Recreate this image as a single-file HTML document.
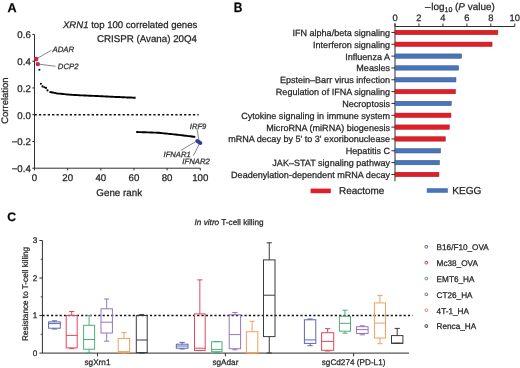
<!DOCTYPE html>
<html><head><meta charset="utf-8"><style>
html,body{margin:0;padding:0;background:#fff;}
svg{display:block;}
text{stroke:#262626;stroke-width:0.25px;text-rendering:geometricPrecision;}
</style></head><body>
<svg width="520" height="368" viewBox="0 0 520 368" font-family="Liberation Sans, Arial, sans-serif">
<rect width="520" height="368" fill="#fff"/>
<text x="7.6" y="12" font-size="12.6" font-weight="bold" fill="#000">A</text>
<text x="197.3" y="27.6" font-size="9.6" text-anchor="end" fill="#262626"><tspan font-style="italic">XRN1</tspan> top 100 correlated genes</text>
<text x="197" y="41.6" font-size="9.75" text-anchor="end" fill="#262626">CRISPR (Avana) 20Q4</text>
<line x1="34.5" y1="34.450000000000045" x2="34.5" y2="168.2" stroke="#2e2e2e" stroke-width="1.0"/>
<line x1="34.5" y1="168.2" x2="200.3" y2="168.2" stroke="#2e2e2e" stroke-width="1.0"/>
<line x1="32.3" y1="34.45" x2="34.5" y2="34.45" stroke="#2e2e2e" stroke-width="1.0"/>
<text x="30.8" y="38.45" font-size="9.7" text-anchor="end" fill="#262626">0.6</text>
<line x1="32.3" y1="61.20" x2="34.5" y2="61.20" stroke="#2e2e2e" stroke-width="1.0"/>
<text x="30.8" y="65.20" font-size="9.7" text-anchor="end" fill="#262626">0.4</text>
<line x1="32.3" y1="87.95" x2="34.5" y2="87.95" stroke="#2e2e2e" stroke-width="1.0"/>
<text x="30.8" y="91.95" font-size="9.7" text-anchor="end" fill="#262626">0.2</text>
<line x1="32.3" y1="114.70" x2="34.5" y2="114.70" stroke="#2e2e2e" stroke-width="1.0"/>
<text x="30.8" y="118.70" font-size="9.7" text-anchor="end" fill="#262626">0.0</text>
<line x1="32.3" y1="141.45" x2="34.5" y2="141.45" stroke="#2e2e2e" stroke-width="1.0"/>
<text x="30.8" y="145.45" font-size="9.7" text-anchor="end" fill="#262626">−0.2</text>
<line x1="32.3" y1="168.20" x2="34.5" y2="168.20" stroke="#2e2e2e" stroke-width="1.0"/>
<text x="30.8" y="172.20" font-size="9.7" text-anchor="end" fill="#262626">−0.4</text>
<line x1="34.50" y1="168.2" x2="34.50" y2="170.4" stroke="#2e2e2e" stroke-width="1.0"/>
<text x="34.50" y="181.0" font-size="9.7" text-anchor="middle" fill="#262626">0</text>
<line x1="67.66" y1="168.2" x2="67.66" y2="170.4" stroke="#2e2e2e" stroke-width="1.0"/>
<text x="67.66" y="181.0" font-size="9.7" text-anchor="middle" fill="#262626">20</text>
<line x1="100.82" y1="168.2" x2="100.82" y2="170.4" stroke="#2e2e2e" stroke-width="1.0"/>
<text x="100.82" y="181.0" font-size="9.7" text-anchor="middle" fill="#262626">40</text>
<line x1="133.98" y1="168.2" x2="133.98" y2="170.4" stroke="#2e2e2e" stroke-width="1.0"/>
<text x="133.98" y="181.0" font-size="9.7" text-anchor="middle" fill="#262626">60</text>
<line x1="167.14" y1="168.2" x2="167.14" y2="170.4" stroke="#2e2e2e" stroke-width="1.0"/>
<text x="167.14" y="181.0" font-size="9.7" text-anchor="middle" fill="#262626">80</text>
<line x1="200.30" y1="168.2" x2="200.30" y2="170.4" stroke="#2e2e2e" stroke-width="1.0"/>
<text x="200.30" y="181.0" font-size="9.7" text-anchor="middle" fill="#262626">100</text>
<text x="119.2" y="196.0" font-size="9.8" text-anchor="middle" fill="#262626">Gene rank</text>
<text transform="translate(8.1,100.6) rotate(-90)" font-size="9.5" text-anchor="middle" fill="#262626">Correlation</text>
<line x1="34.5" y1="114.7" x2="198.6" y2="114.7" stroke="#111" stroke-width="1.6" stroke-dasharray="2.3 2.1"/>
<path d="M49.42,91.90 L51.08,92.20 L52.74,92.53 L54.40,92.86 L56.05,93.19 L57.71,93.46 L59.37,93.64 L61.03,93.81 L62.69,93.98 L64.34,94.16 L66.00,94.33 L67.66,94.50 L69.32,94.64 L70.98,94.74 L72.63,94.84 L74.29,94.94 L75.95,95.04 L77.61,95.14 L79.27,95.24 L80.92,95.33 L82.58,95.40 L84.24,95.48 L85.90,95.55 L87.56,95.62 L89.21,95.69 L90.87,95.76 L92.53,95.84 L94.19,95.91 L95.85,95.99 L97.50,96.07 L99.16,96.15 L100.82,96.22 L102.48,96.30 L104.14,96.38 L105.79,96.46 L107.45,96.54 L109.11,96.62 L110.77,96.70 L112.43,96.78 L114.08,96.86 L115.74,96.93 L117.40,97.00 L119.06,97.07 L120.72,97.14 L122.37,97.22 L124.03,97.29 L125.69,97.36 L127.35,97.43 L129.01,97.50 L130.66,97.57 L132.32,97.64 L133.98,97.71 L135.64,97.78" fill="none" stroke="#000" stroke-width="1.9" stroke-linejoin="round"/>
<circle cx="39.4" cy="69.8" r="1.05" fill="#000"/>
<circle cx="40.9" cy="83.8" r="1.05" fill="#000"/>
<circle cx="42.5" cy="86.4" r="1.05" fill="#000"/>
<circle cx="44.3" cy="87.2" r="1.05" fill="#000"/>
<circle cx="46.0" cy="87.9" r="1.05" fill="#000"/>
<circle cx="47.5" cy="90.4" r="1.05" fill="#000"/>
<path d="M136.2,132.0 L137.30,132.04 L138.95,132.09 L140.61,132.14 L142.27,132.20 L143.93,132.25 L145.59,132.31 L147.24,132.36 L148.90,132.41 L150.56,132.47 L152.22,132.52 L153.88,132.58 L155.53,132.63 L157.19,132.68 L158.85,132.82 L160.51,132.99 L162.17,133.16 L163.82,133.33 L165.48,133.50 L167.14,133.67 L168.80,133.84 L170.46,134.01 L172.11,134.18 L173.77,134.35 L175.43,134.52 L177.09,134.71 L178.75,134.90 L180.40,135.10 L182.06,135.30 L183.72,135.50 L185.38,135.70 L187.04,135.90 L188.69,136.10 L190.35,136.30 L192.01,136.49 L193.67,136.69 L195.33,136.89" fill="none" stroke="#000" stroke-width="1.9" stroke-linejoin="round"/>
<line x1="36.2" y1="59" x2="51.5" y2="50.2" stroke="#555" stroke-width="0.7"/>
<line x1="38" y1="64" x2="55.5" y2="66.3" stroke="#555" stroke-width="0.7"/>
<line x1="197.2" y1="129.6" x2="199" y2="140.5" stroke="#555" stroke-width="0.7"/>
<line x1="181" y1="150.3" x2="197" y2="140.8" stroke="#555" stroke-width="0.7"/>
<line x1="193.3" y1="155.8" x2="199.8" y2="143" stroke="#555" stroke-width="0.7"/>
<circle cx="36.1" cy="59.1" r="2.3" fill="#d2204a"/>
<circle cx="37.8" cy="64.1" r="2.2" fill="#d2204a"/>
<circle cx="197.3" cy="141.0" r="2.0" fill="#2f3c9e"/>
<circle cx="198.8" cy="142.0" r="2.0" fill="#2f3c9e"/>
<circle cx="200.3" cy="143.1" r="2.0" fill="#2f3c9e"/>
<text x="52.6" y="51.8" font-size="7.75" font-style="italic" fill="#333" stroke-width="0.1">ADAR</text>
<text x="57.8" y="69.4" font-size="7.75" font-style="italic" fill="#333" stroke-width="0.1">DCP2</text>
<text x="189.8" y="128.6" font-size="7.6" font-style="italic" fill="#333" stroke-width="0.1">IRF9</text>
<text x="163.6" y="157.1" font-size="7.6" font-style="italic" fill="#333" stroke-width="0.1">IFNAR1</text>
<text x="182.3" y="164.3" font-size="7.75" font-style="italic" fill="#333" stroke-width="0.1">IFNAR2</text>
<text transform="translate(233.8,11.5) scale(0.875,1)" font-size="13.7" text-rendering="geometricPrecision" font-weight="bold" fill="#000" stroke-width="0.05">B</text>
<line x1="395.0" y1="26.5" x2="514.80" y2="26.5" stroke="#2e2e2e" stroke-width="1.0"/>
<line x1="395.0" y1="23.3" x2="395.0" y2="181.2" stroke="#2e2e2e" stroke-width="1.0"/>
<line x1="395.00" y1="23.5" x2="395.00" y2="26.5" stroke="#2e2e2e" stroke-width="1.0"/>
<text x="395.00" y="20.6" font-size="9.4" text-anchor="middle" fill="#262626">0</text>
<line x1="418.96" y1="23.5" x2="418.96" y2="26.5" stroke="#2e2e2e" stroke-width="1.0"/>
<text x="418.96" y="20.6" font-size="9.4" text-anchor="middle" fill="#262626">2</text>
<line x1="442.92" y1="23.5" x2="442.92" y2="26.5" stroke="#2e2e2e" stroke-width="1.0"/>
<text x="442.92" y="20.6" font-size="9.4" text-anchor="middle" fill="#262626">4</text>
<line x1="466.88" y1="23.5" x2="466.88" y2="26.5" stroke="#2e2e2e" stroke-width="1.0"/>
<text x="466.88" y="20.6" font-size="9.4" text-anchor="middle" fill="#262626">6</text>
<line x1="490.84" y1="23.5" x2="490.84" y2="26.5" stroke="#2e2e2e" stroke-width="1.0"/>
<text x="490.84" y="20.6" font-size="9.4" text-anchor="middle" fill="#262626">8</text>
<line x1="514.80" y1="23.5" x2="514.80" y2="26.5" stroke="#2e2e2e" stroke-width="1.0"/>
<text x="514.80" y="20.6" font-size="9.4" text-anchor="middle" fill="#262626">10</text>
<text x="425.0" y="10.1" font-size="9.95" fill="#262626">–<tspan dx="0.7">log</tspan><tspan font-size="7" dy="1.6">10</tspan><tspan dy="-1.6"> (</tspan><tspan font-style="italic">P</tspan> value)</text>
<rect x="395.0" y="30.25" width="102.85" height="4.4" fill="#e31d25" stroke="#a3161e" stroke-width="0.5"/>
<line x1="391.4" y1="32.45" x2="395.0" y2="32.45" stroke="#2e2e2e" stroke-width="1.0"/>
<text x="390.0" y="35.85" font-size="9.05" text-anchor="end" fill="#262626">IFN alpha/beta signaling</text>
<rect x="395.0" y="42.08" width="97.05" height="4.4" fill="#e31d25" stroke="#a3161e" stroke-width="0.5"/>
<line x1="391.4" y1="44.28" x2="395.0" y2="44.28" stroke="#2e2e2e" stroke-width="1.0"/>
<text x="390.0" y="47.68" font-size="9.05" text-anchor="end" fill="#262626">Interferon signaling</text>
<rect x="395.0" y="53.92" width="66.55" height="4.4" fill="#4a74ba" stroke="#2d5290" stroke-width="0.5"/>
<line x1="391.4" y1="56.12" x2="395.0" y2="56.12" stroke="#2e2e2e" stroke-width="1.0"/>
<text x="390.0" y="59.52" font-size="9.05" text-anchor="end" fill="#262626">Influenza A</text>
<rect x="395.0" y="65.75" width="63.65" height="4.4" fill="#4a74ba" stroke="#2d5290" stroke-width="0.5"/>
<line x1="391.4" y1="67.95" x2="395.0" y2="67.95" stroke="#2e2e2e" stroke-width="1.0"/>
<text x="390.0" y="71.35" font-size="9.05" text-anchor="end" fill="#262626">Measles</text>
<rect x="395.0" y="77.58" width="60.95" height="4.4" fill="#4a74ba" stroke="#2d5290" stroke-width="0.5"/>
<line x1="391.4" y1="79.78" x2="395.0" y2="79.78" stroke="#2e2e2e" stroke-width="1.0"/>
<text x="390.0" y="83.18" font-size="9.05" text-anchor="end" fill="#262626">Epstein–Barr virus infection</text>
<rect x="395.0" y="89.41" width="60.45" height="4.4" fill="#e31d25" stroke="#a3161e" stroke-width="0.5"/>
<line x1="391.4" y1="91.61" x2="395.0" y2="91.61" stroke="#2e2e2e" stroke-width="1.0"/>
<text x="390.0" y="95.02" font-size="9.05" text-anchor="end" fill="#262626">Regulation of IFNA signaling</text>
<rect x="395.0" y="101.25" width="56.25" height="4.4" fill="#4a74ba" stroke="#2d5290" stroke-width="0.5"/>
<line x1="391.4" y1="103.45" x2="395.0" y2="103.45" stroke="#2e2e2e" stroke-width="1.0"/>
<text x="390.0" y="106.85" font-size="9.05" text-anchor="end" fill="#262626">Necroptosis</text>
<rect x="395.0" y="113.08" width="55.95" height="4.4" fill="#e31d25" stroke="#a3161e" stroke-width="0.5"/>
<line x1="391.4" y1="115.28" x2="395.0" y2="115.28" stroke="#2e2e2e" stroke-width="1.0"/>
<text x="390.0" y="118.68" font-size="9.05" text-anchor="end" fill="#262626">Cytokine signaling in immune system</text>
<rect x="395.0" y="124.91" width="54.35" height="4.4" fill="#e31d25" stroke="#a3161e" stroke-width="0.5"/>
<line x1="391.4" y1="127.11" x2="395.0" y2="127.11" stroke="#2e2e2e" stroke-width="1.0"/>
<text x="390.0" y="130.51" font-size="9.05" text-anchor="end" fill="#262626">MicroRNA (miRNA) biogenesis</text>
<rect x="395.0" y="136.75" width="50.35" height="4.4" fill="#e31d25" stroke="#a3161e" stroke-width="0.5"/>
<line x1="391.4" y1="138.95" x2="395.0" y2="138.95" stroke="#2e2e2e" stroke-width="1.0"/>
<text x="390.0" y="142.35" font-size="9.05" text-anchor="end" fill="#262626">mRNA decay by 5&#39; to 3&#39; exoribonuclease</text>
<rect x="395.0" y="148.58" width="45.55" height="4.4" fill="#4a74ba" stroke="#2d5290" stroke-width="0.5"/>
<line x1="391.4" y1="150.78" x2="395.0" y2="150.78" stroke="#2e2e2e" stroke-width="1.0"/>
<text x="390.0" y="154.18" font-size="9.05" text-anchor="end" fill="#262626">Hepatitis C</text>
<rect x="395.0" y="160.41" width="44.45" height="4.4" fill="#4a74ba" stroke="#2d5290" stroke-width="0.5"/>
<line x1="391.4" y1="162.61" x2="395.0" y2="162.61" stroke="#2e2e2e" stroke-width="1.0"/>
<text x="390.0" y="166.01" font-size="9.05" text-anchor="end" fill="#262626">JAK–STAT signaling pathway</text>
<rect x="395.0" y="172.25" width="43.95" height="4.4" fill="#e31d25" stroke="#a3161e" stroke-width="0.5"/>
<line x1="391.4" y1="174.45" x2="395.0" y2="174.45" stroke="#2e2e2e" stroke-width="1.0"/>
<text x="390.0" y="177.85" font-size="9.05" text-anchor="end" fill="#262626">Deadenylation-dependent mRNA decay</text>
<rect x="310.6" y="188.6" width="20.2" height="4.6" fill="#e31d25"/>
<text x="339.0" y="193.9" font-size="9.95" fill="#262626">Reactome</text>
<rect x="426.8" y="188.2" width="21" height="4.6" fill="#4a74ba"/>
<text x="452.3" y="193.9" font-size="10.1" fill="#262626">KEGG</text>
<text x="7.2" y="221" font-size="12.2" font-weight="bold" fill="#000">C</text>
<text x="194.6" y="224.8" font-size="8.2" fill="#262626"><tspan font-style="italic">In vitro</tspan> T-cell killing</text>
<line x1="42.4" y1="240.51" x2="42.4" y2="353.1" stroke="#2e2e2e" stroke-width="1.0"/>
<line x1="42.4" y1="353.1" x2="409" y2="353.1" stroke="#2e2e2e" stroke-width="1.0"/>
<line x1="39.4" y1="353.10" x2="42.4" y2="353.10" stroke="#2e2e2e" stroke-width="1.0"/>
<text x="37.4" y="356.00" font-size="8.2" text-anchor="end" fill="#262626">0</text>
<line x1="39.4" y1="315.57" x2="42.4" y2="315.57" stroke="#2e2e2e" stroke-width="1.0"/>
<text x="37.4" y="318.47" font-size="8.2" text-anchor="end" fill="#262626">1</text>
<line x1="39.4" y1="278.04" x2="42.4" y2="278.04" stroke="#2e2e2e" stroke-width="1.0"/>
<text x="37.4" y="280.94" font-size="8.2" text-anchor="end" fill="#262626">2</text>
<line x1="39.4" y1="240.51" x2="42.4" y2="240.51" stroke="#2e2e2e" stroke-width="1.0"/>
<text x="37.4" y="243.41" font-size="8.2" text-anchor="end" fill="#262626">3</text>
<line x1="40.6" y1="334.34" x2="42.4" y2="334.34" stroke="#2e2e2e" stroke-width="0.8"/>
<line x1="40.6" y1="296.81" x2="42.4" y2="296.81" stroke="#2e2e2e" stroke-width="0.8"/>
<line x1="40.6" y1="259.28" x2="42.4" y2="259.28" stroke="#2e2e2e" stroke-width="0.8"/>
<text transform="translate(28.2,293.9) rotate(-90)" font-size="8.2" text-anchor="middle" fill="#262626">Resistance to T-cell killing</text>
<line x1="97.5" y1="353.1" x2="97.5" y2="356.3" stroke="#2e2e2e" stroke-width="1.0"/>
<text x="97.5" y="365.4" font-size="8.2" text-anchor="middle" fill="#262626">sgXrn1</text>
<line x1="225.4" y1="353.1" x2="225.4" y2="356.3" stroke="#2e2e2e" stroke-width="1.0"/>
<text x="225.4" y="365.4" font-size="8.2" text-anchor="middle" fill="#262626">sgAdar</text>
<line x1="353.6" y1="353.1" x2="353.6" y2="356.3" stroke="#2e2e2e" stroke-width="1.0"/>
<text x="353.6" y="365.4" font-size="8.2" text-anchor="middle" fill="#262626">sgCd274 (PD-L1)</text>
<line x1="42.4" y1="315.6" x2="412.6" y2="315.6" stroke="#111" stroke-width="1.5" stroke-dasharray="2.2 2.1"/>
<g stroke="#5a68b8" stroke-width="1" fill="none"><line x1="54.45" y1="320.8" x2="54.45" y2="321.9"/><line x1="54.45" y1="328.2" x2="54.45" y2="329.0"/><line x1="51.85" y1="320.8" x2="57.05" y2="320.8"/><line x1="51.85" y1="329.0" x2="57.05" y2="329.0"/><rect x="48.6" y="321.9" width="11.70" height="6.30" fill="none"/><line x1="48.6" y1="323.6" x2="60.3" y2="323.6"/></g>
<g stroke="#e0485c" stroke-width="1" fill="none"><line x1="71.70" y1="311.5" x2="71.70" y2="315.5"/><line x1="71.70" y1="347.9" x2="71.70" y2="348.7"/><line x1="69.10" y1="311.5" x2="74.30" y2="311.5"/><line x1="69.10" y1="348.7" x2="74.30" y2="348.7"/><rect x="66.2" y="315.5" width="11.00" height="32.40" fill="none"/><line x1="66.2" y1="335.4" x2="77.2" y2="335.4"/></g>
<g stroke="#4eae7a" stroke-width="1" fill="none"><line x1="89.10" y1="315.5" x2="89.10" y2="325.3"/><line x1="89.10" y1="349.2" x2="89.10" y2="353.0"/><line x1="86.50" y1="315.5" x2="91.70" y2="315.5"/><line x1="86.50" y1="353.0" x2="91.70" y2="353.0"/><rect x="83.6" y="325.3" width="11.00" height="23.90" fill="none"/><line x1="83.6" y1="339.5" x2="94.6" y2="339.5"/></g>
<g stroke="#9a74bc" stroke-width="1" fill="none"><line x1="106.70" y1="299.0" x2="106.70" y2="308.8"/><line x1="106.70" y1="333.0" x2="106.70" y2="341.2"/><line x1="104.10" y1="299.0" x2="109.30" y2="299.0"/><line x1="104.10" y1="341.2" x2="109.30" y2="341.2"/><rect x="101.0" y="308.8" width="11.40" height="24.20" fill="none"/><line x1="101.0" y1="322.2" x2="112.4" y2="322.2"/></g>
<g stroke="#f0a060" stroke-width="1" fill="none"><line x1="123.90" y1="332.6" x2="123.90" y2="338.4"/><line x1="123.90" y1="352.6" x2="123.90" y2="353.0"/><line x1="121.30" y1="332.6" x2="126.50" y2="332.6"/><line x1="121.30" y1="353.0" x2="126.50" y2="353.0"/><rect x="118.2" y="338.4" width="11.40" height="14.20" fill="none"/><line x1="118.2" y1="351.6" x2="129.6" y2="351.6"/></g>
<g stroke="#3a3a3a" stroke-width="1" fill="none"><line x1="141.75" y1="314.6" x2="141.75" y2="315.5"/><line x1="141.75" y1="352.6" x2="141.75" y2="353.0"/><line x1="139.15" y1="314.6" x2="144.35" y2="314.6"/><line x1="139.15" y1="353.0" x2="144.35" y2="353.0"/><rect x="136.3" y="315.5" width="10.90" height="37.10" fill="none"/><line x1="136.3" y1="340.0" x2="147.2" y2="340.0"/></g>
<g stroke="#5a68b8" stroke-width="1" fill="none"><line x1="182.15" y1="342.4" x2="182.15" y2="344.2"/><line x1="182.15" y1="348.2" x2="182.15" y2="349.0"/><line x1="179.55" y1="342.4" x2="184.75" y2="342.4"/><line x1="179.55" y1="349.0" x2="184.75" y2="349.0"/><rect x="176.3" y="344.2" width="11.70" height="4.00" fill="none"/><line x1="176.3" y1="346.0" x2="188.0" y2="346.0"/></g>
<g stroke="#e0485c" stroke-width="1" fill="none"><line x1="199.85" y1="279.9" x2="199.85" y2="313.9"/><line x1="199.85" y1="350.4" x2="199.85" y2="350.6"/><line x1="197.25" y1="279.9" x2="202.45" y2="279.9"/><line x1="197.25" y1="350.6" x2="202.45" y2="350.6"/><rect x="194.5" y="313.9" width="10.70" height="36.50" fill="none"/><line x1="194.5" y1="348.2" x2="205.2" y2="348.2"/></g>
<g stroke="#4eae7a" stroke-width="1" fill="none"><line x1="216.80" y1="341.7" x2="216.80" y2="341.7"/><line x1="216.80" y1="351.7" x2="216.80" y2="352.6"/><line x1="214.20" y1="341.7" x2="219.40" y2="341.7"/><line x1="214.20" y1="352.6" x2="219.40" y2="352.6"/><rect x="211.6" y="341.7" width="10.40" height="10.00" fill="none"/><line x1="211.6" y1="349.4" x2="222.0" y2="349.4"/></g>
<g stroke="#9a74bc" stroke-width="1" fill="none"><line x1="234.90" y1="312.5" x2="234.90" y2="314.8"/><line x1="234.90" y1="348.7" x2="234.90" y2="349.8"/><line x1="232.30" y1="312.5" x2="237.50" y2="312.5"/><line x1="232.30" y1="349.8" x2="237.50" y2="349.8"/><rect x="229.2" y="314.8" width="11.40" height="33.90" fill="none"/><line x1="229.2" y1="334.6" x2="240.6" y2="334.6"/></g>
<g stroke="#f0a060" stroke-width="1" fill="none"><line x1="252.10" y1="321.3" x2="252.10" y2="331.7"/><line x1="252.10" y1="353.0" x2="252.10" y2="353.0"/><line x1="249.50" y1="321.3" x2="254.70" y2="321.3"/><line x1="249.50" y1="353.0" x2="254.70" y2="353.0"/><rect x="246.4" y="331.7" width="11.40" height="21.30" fill="none"/><line x1="246.4" y1="352.6" x2="257.8" y2="352.6"/></g>
<g stroke="#3a3a3a" stroke-width="1" fill="none"><line x1="269.25" y1="242.8" x2="269.25" y2="259.9"/><line x1="269.25" y1="336.6" x2="269.25" y2="353.0"/><line x1="266.65" y1="242.8" x2="271.85" y2="242.8"/><line x1="266.65" y1="353.0" x2="271.85" y2="353.0"/><rect x="263.5" y="259.9" width="11.50" height="76.70" fill="none"/><line x1="263.5" y1="295.2" x2="275.0" y2="295.2"/></g>
<g stroke="#5a68b8" stroke-width="1" fill="none"><line x1="310.10" y1="319.0" x2="310.10" y2="319.8"/><line x1="310.10" y1="343.4" x2="310.10" y2="345.7"/><line x1="307.50" y1="319.0" x2="312.70" y2="319.0"/><line x1="307.50" y1="345.7" x2="312.70" y2="345.7"/><rect x="304.4" y="319.8" width="11.40" height="23.60" fill="none"/><line x1="304.4" y1="339.9" x2="315.8" y2="339.9"/></g>
<g stroke="#e0485c" stroke-width="1" fill="none"><line x1="327.65" y1="328.6" x2="327.65" y2="332.7"/><line x1="327.65" y1="350.3" x2="327.65" y2="351.0"/><line x1="325.05" y1="328.6" x2="330.25" y2="328.6"/><line x1="325.05" y1="351.0" x2="330.25" y2="351.0"/><rect x="321.6" y="332.7" width="12.10" height="17.60" fill="none"/><line x1="321.6" y1="341.4" x2="333.7" y2="341.4"/></g>
<g stroke="#4eae7a" stroke-width="1" fill="none"><line x1="344.95" y1="310.2" x2="344.95" y2="316.3"/><line x1="344.95" y1="331.2" x2="344.95" y2="333.2"/><line x1="342.35" y1="310.2" x2="347.55" y2="310.2"/><line x1="342.35" y1="333.2" x2="347.55" y2="333.2"/><rect x="339.4" y="316.3" width="11.10" height="14.90" fill="none"/><line x1="339.4" y1="323.3" x2="350.5" y2="323.3"/></g>
<g stroke="#9a74bc" stroke-width="1" fill="none"><line x1="362.30" y1="325.8" x2="362.30" y2="326.7"/><line x1="362.30" y1="333.5" x2="362.30" y2="334.8"/><line x1="359.70" y1="325.8" x2="364.90" y2="325.8"/><line x1="359.70" y1="334.8" x2="364.90" y2="334.8"/><rect x="356.5" y="326.7" width="11.60" height="6.80" fill="none"/><line x1="356.5" y1="329.6" x2="368.1" y2="329.6"/></g>
<g stroke="#f0a060" stroke-width="1" fill="none"><line x1="379.95" y1="295.4" x2="379.95" y2="302.9"/><line x1="379.95" y1="338.0" x2="379.95" y2="343.7"/><line x1="377.35" y1="295.4" x2="382.55" y2="295.4"/><line x1="377.35" y1="343.7" x2="382.55" y2="343.7"/><rect x="374.4" y="302.9" width="11.10" height="35.10" fill="none"/><line x1="374.4" y1="323.1" x2="385.5" y2="323.1"/></g>
<g stroke="#3a3a3a" stroke-width="1" fill="none"><line x1="397.20" y1="328.4" x2="397.20" y2="335.6"/><line x1="397.20" y1="343.3" x2="397.20" y2="343.3"/><line x1="394.60" y1="328.4" x2="399.80" y2="328.4"/><line x1="394.60" y1="343.3" x2="399.80" y2="343.3"/><rect x="391.5" y="335.6" width="11.40" height="7.70" fill="none"/><line x1="391.5" y1="343.2" x2="402.9" y2="343.2"/></g>
<rect x="425.1" y="245.55" width="2.5" height="2.5" rx="0.5" fill="none" stroke="#5a6290" stroke-width="1.0"/>
<text x="436.6" y="250.20" font-size="8.2" fill="#262626">B16/F10_OVA</text>
<rect x="425.1" y="261.40" width="2.5" height="2.5" rx="0.5" fill="none" stroke="#c84458" stroke-width="1.0"/>
<text x="436.6" y="266.05" font-size="8.2" fill="#262626">Mc38_OVA</text>
<rect x="425.1" y="277.25" width="2.5" height="2.5" rx="0.5" fill="none" stroke="#58a078" stroke-width="1.0"/>
<text x="436.6" y="281.90" font-size="8.2" fill="#262626">EMT6_HA</text>
<rect x="425.1" y="293.10" width="2.5" height="2.5" rx="0.5" fill="none" stroke="#8c6ca8" stroke-width="1.0"/>
<text x="436.6" y="297.75" font-size="8.2" fill="#262626">CT26_HA</text>
<rect x="425.1" y="308.95" width="2.5" height="2.5" rx="0.5" fill="none" stroke="#d8946a" stroke-width="1.0"/>
<text x="436.6" y="313.60" font-size="8.2" fill="#262626">4T-1_HA</text>
<rect x="425.1" y="324.80" width="2.5" height="2.5" rx="0.5" fill="none" stroke="#3c3c3c" stroke-width="1.0"/>
<text x="436.6" y="329.45" font-size="8.2" fill="#262626">Renca_HA</text>
</svg>
</body></html>
